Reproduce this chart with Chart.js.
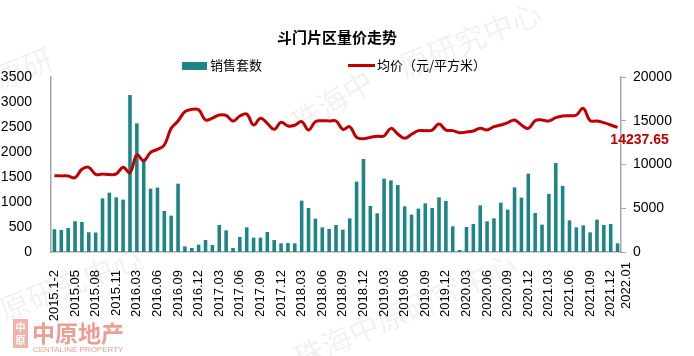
<!DOCTYPE html>
<html>
<head>
<meta charset="utf-8">
<script src="https://cdn.jsdelivr.net/npm/chart.js@4/dist/chart.umd.min.js"></script>
<style>
html,body{margin:0;padding:0;background:#fff;}
#c{display:block;}
</style>
</head>
<body>
<canvas id="c" width="694" height="356"></canvas>
<script>
const categories = [
"2015.1-2","2015.03","2015.04","2015.05","2015.06","2015.07","2015.08","2015.09","2015.10","2015.11","2015.12",
"2016.1-2","2016.03","2016.04","2016.05","2016.06","2016.07","2016.08","2016.09","2016.10","2016.11","2016.12",
"2017.01","2017.02","2017.03","2017.04","2017.05","2017.06","2017.07","2017.08","2017.09","2017.10","2017.11","2017.12",
"2018.01","2018.02","2018.03","2018.04","2018.05","2018.06","2018.07","2018.08","2018.09","2018.10","2018.11","2018.12",
"2019.01","2019.02","2019.03","2019.04","2019.05","2019.06","2019.07","2019.08","2019.09","2019.10","2019.11","2019.12",
"2020.01","2020.02","2020.03","2020.04","2020.05","2020.06","2020.07","2020.08","2020.09","2020.10","2020.11","2020.12",
"2021.01","2021.02","2021.03","2021.04","2021.05","2021.06","2021.07","2021.08","2021.09","2021.10","2021.11","2021.12",
"2022.01"];

const salesUnits = [
455,440,480,615,600,395,390,1073,1187,1093,1047,
3140,2573,1830,1267,1287,820,727,1367,113,80,147,
240,140,540,433,80,300,493,287,287,400,240,173,
180,173,1027,880,667,493,460,540,447,673,1407,1860,
920,773,1467,1433,1340,913,747,867,973,880,1093,1020,
513,40,500,560,933,613,673,987,847,1293,1087,1567,
780,547,1160,1780,1320,633,493,533,393,647,540,560,
173];

const avgPrice = [
8720,8700,8680,8490,9450,9680,8880,8900,8850,8920,9680,
9070,11090,10440,11390,11730,12230,14130,14970,16040,16300,16250,
15090,15310,15660,15620,14970,15540,15770,14510,15280,14700,14020,14820,
14400,14480,14900,13940,14900,15000,14970,14970,14020,14320,13100,12950,
13100,13220,13260,14130,13490,12990,13450,13870,13870,13940,14630,13940,
13870,13640,13710,13830,14130,13940,14320,14510,14780,15090,14510,14130,
15010,15090,14970,15350,15540,15580,15660,16420,15010,14970,14780,14510,
14237.65];

const leftTicks = [0,500,1000,1500,2000,2500,3000,3500];
const rightTicks = [0,5000,10000,15000,20000];

const titleText = "斗门片区量价走势";
const seriesNames = ["销售套数","均价（元/平方米）"];
const lastLabel = "14237.65";

const TEAL = "#1d8585";
const RED = "#c00000";
const AXIS = "#a6a6a6";

const decor = {
  id: "decor",
  beforeDraw(chart) {
    const ctx = chart.ctx;
    ctx.save();
    ctx.fillStyle = "#fff";
    ctx.fillRect(0,0,chart.width,chart.height);
    const wm = (t,x,y,a,s) => {
      ctx.save();
      ctx.translate(x,y);
      ctx.rotate(a*Math.PI/180);
      ctx.font = s + 'px "Noto Sans CJK SC"';
      ctx.fillStyle = "rgba(0,0,0,0.055)";
      ctx.textBaseline = "alphabetic";
      ctx.fillText(t,0,0);
      ctx.restore();
    };
    wm("原研究中心",405,78,-22,30);
    wm("原研",0,90,-22,30);
    wm("珠海中",300,135,-32,30);
    wm("原研究中心",5,322,-22,30);
    wm("珠海中原研究中心",300,370,-24,30);
    ctx.fillStyle = "#f1b2a8";
    ctx.fillRect(13,319,15,29);
    ctx.fillStyle = "#fff";
    ctx.font = 'bold 10px "Noto Sans CJK SC"';
    ctx.textAlign = "center";
    ctx.textBaseline = "middle";
    ctx.fillText("中",20.5,327);
    ctx.fillText("原",20.5,340);
    ctx.textAlign = "left";
    ctx.fillStyle = "#eb9f94";
    ctx.font = 'bold 23px "Noto Sans CJK SC"';
    ctx.textBaseline = "middle";
    ctx.fillText("中原地产",32,333);
    ctx.font = '8px "Liberation Sans"';
    ctx.fillText("CENTALINE PROPERTY",33,350);
    ctx.restore();
  },
  afterDraw(chart) {
    const ctx = chart.ctx;
    ctx.save();
    ctx.fillStyle = "#000";
    ctx.font = 'bold 15px "Noto Sans CJK SC"';
    ctx.textAlign = "center";
    ctx.textBaseline = "middle";
    ctx.fillText(titleText,337,37);
    ctx.textAlign = "left";
    ctx.font = '13px "Noto Sans CJK SC"';
    ctx.fillStyle = TEAL;
    ctx.fillRect(182,62,25,8);
    ctx.fillStyle = "#000";
    ctx.fillText(seriesNames[0],210,65);
    ctx.strokeStyle = RED;
    ctx.lineWidth = 3;
    ctx.beginPath();
    ctx.moveTo(348,65.5);
    ctx.lineTo(375,65.5);
    ctx.stroke();
    ctx.fillStyle = "#000";
    ctx.fillText(seriesNames[1],377,65);
    // last category label, nudged right as in the reference
    const xs = chart.scales.x;
    const lastIdx = categories.length-1;
    const lx = xs.getPixelForTick(lastIdx) + 9;
    ctx.save();
    ctx.translate(lx, xs.top + 10);
    ctx.rotate(-Math.PI/2);
    ctx.font = '13px "Liberation Sans"';
    ctx.textAlign = "right";
    ctx.textBaseline = "middle";
    ctx.fillStyle = "#000";
    ctx.fillText(categories[lastIdx],0,0);
    ctx.restore();
    const meta = chart.getDatasetMeta(1);
    const p = meta.data[meta.data.length-1];
    ctx.fillStyle = RED;
    ctx.font = 'bold 14px "Liberation Sans"';
    ctx.textAlign = "center";
    ctx.fillText(lastLabel,p.x+22,p.y+13);
    ctx.restore();
  }
};

new Chart(document.getElementById("c"), {
  data: {
    labels: categories,
    datasets: [
      {type:"bar", label:seriesNames[0], data:salesUnits, yAxisID:"y",
       backgroundColor:TEAL, categoryPercentage:1, barPercentage:0.52, order:2},
      {type:"line", label:seriesNames[1], data:avgPrice, yAxisID:"y1",
       borderColor:RED, borderWidth:3, pointRadius:0, tension:0.4, fill:false, order:1}
    ]
  },
  options: {
    responsive:false, animation:false, devicePixelRatio:1,
    layout:{padding:{top:77,left:0,right:0,bottom:0}},
    plugins:{legend:{display:false}, title:{display:false}, tooltip:{enabled:false}},
    scales:{
      x:{
        offset:true,
        grid:{display:false},
        border:{display:true,color:AXIS,width:1.5},
        ticks:{autoSkip:false,maxRotation:90,minRotation:90,color:"#000",padding:10,
          font:{family:"Liberation Sans",size:13},
          callback:(v,i)=> (i%3===0 && i!==categories.length-1) ? categories[i] : ""},
        afterFit:(a)=>{a.height=104;}
      },
      y:{
        position:"left", min:0, max:3500,
        afterBuildTicks:(a)=>{a.ticks=leftTicks.map(v=>({value:v}));},
        grid:{display:false},
        border:{display:true,color:AXIS,width:1.5},
        ticks:{color:"#000",padding:11,font:{family:"Liberation Sans",size:14},callback:(v)=>String(v)},
        afterFit:(a)=>{a.width=51;}
      },
      y1:{
        position:"right", min:0, max:20000,
        afterBuildTicks:(a)=>{a.ticks=rightTicks.map(v=>({value:v}));},
        grid:{display:true,drawOnChartArea:false,drawTicks:true,tickLength:5,color:AXIS},
        border:{display:true,color:AXIS,width:1.5},
        ticks:{color:"#000",padding:7,font:{family:"Liberation Sans",size:14},callback:(v)=>String(v)},
        afterFit:(a)=>{a.width=73;}
      }
    }
  },
  plugins:[decor]
});
</script>
</body>
</html>
